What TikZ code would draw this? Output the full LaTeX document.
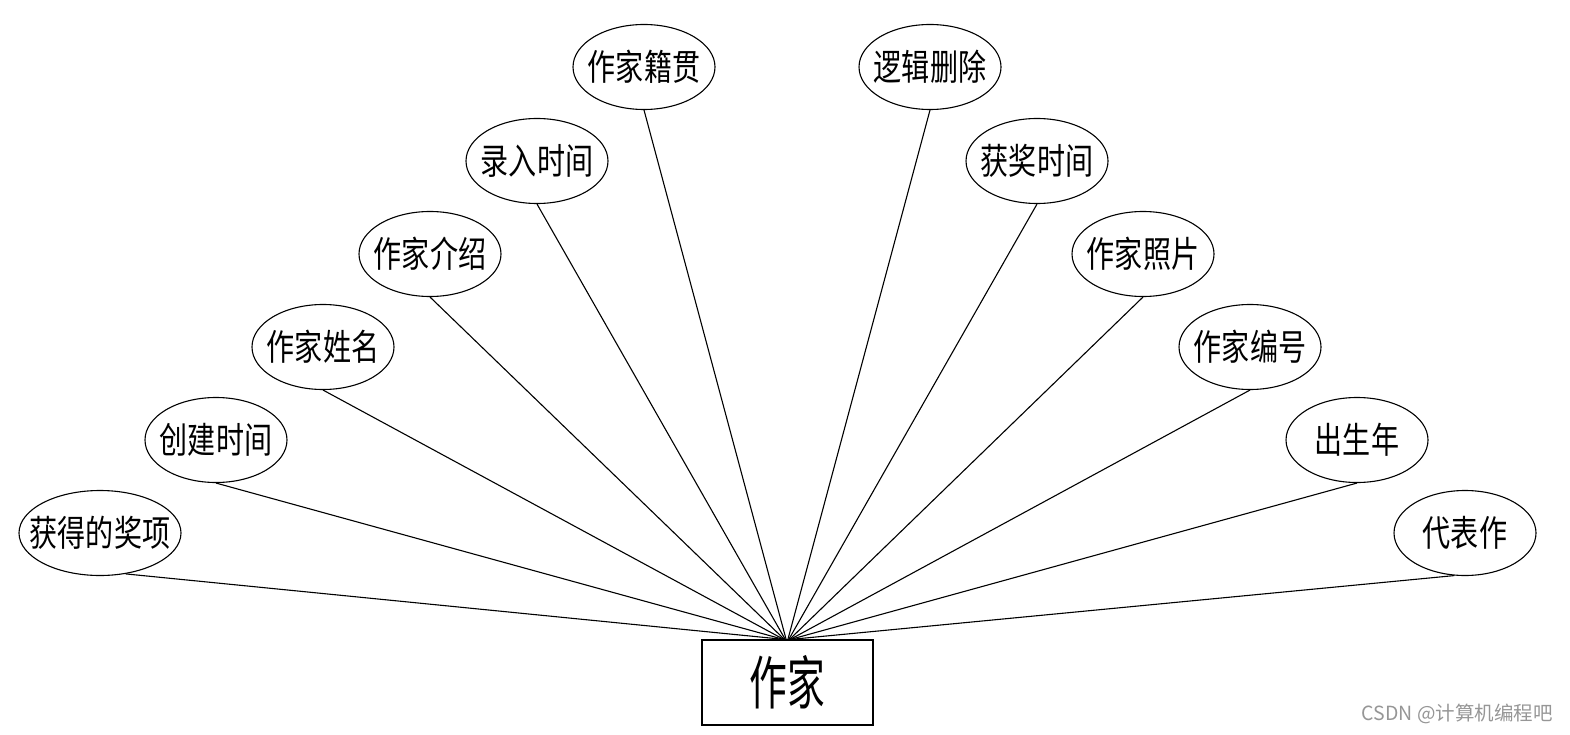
\documentclass[tikz,border=0pt]{standalone}
\usepackage{fontspec}
\newfontfamily\cjkA[FakeStretch=0.78]{Noto Sans CJK SC}
\newfontfamily\cjkB[FakeStretch=0.65]{Noto Sans CJK SC}
\newfontfamily\cjkW{Noto Sans CJK SC}
\usetikzlibrary{shapes.geometric}
\definecolor{wm}{RGB}{150,150,150}
\newcommand{\lbl}[1]{\makebox[0pt][c]{#1}}
\tikzset{
  attr/.style={ellipse, draw, line width=1.1pt, minimum width=142pt, minimum height=85pt,
    inner sep=0pt, font=\cjkA\fontsize{36}{36}\selectfont},
  entity/.style={rectangle, draw, line width=1.3pt, minimum width=171pt, minimum height=85pt,
    inner sep=0pt, font=\cjkB\fontsize{58}{58}\selectfont},
  link/.style={line width=1.1pt}
}
\begin{document}
\begin{tikzpicture}[x=1pt,y=-1pt]
\useasboundingbox (0,0) rectangle (1570,735);
\node[entity] (box) at (787.5,682.5) {作家};
\node[attr, minimum width=162pt] (e1) at (100,533) {\lbl{获得的奖项}};
\node[attr] (e2) at (216,440) {\lbl{创建时间}};
\node[attr] (e3) at (323,347) {\lbl{作家姓名}};
\node[attr] (e4) at (430,254) {\lbl{作家介绍}};
\node[attr] (e5) at (537,161) {\lbl{录入时间}};
\node[attr] (e6) at (644,67) {\lbl{作家籍贯}};
\node[attr] (e7) at (930,67) {\lbl{逻辑删除}};
\node[attr] (e8) at (1037,161) {\lbl{获奖时间}};
\node[attr] (e9) at (1143,254) {\lbl{作家照片}};
\node[attr] (e10) at (1250,347) {\lbl{作家编号}};
\node[attr] (e11) at (1357,440) {\lbl{出生年}};
\node[attr] (e12) at (1465,533) {\lbl{代表作}};
\coordinate (h1) at (780,639);
\coordinate (h2) at (782,639);
\coordinate (h3) at (783,639);
\coordinate (h4) at (784,639);
\coordinate (h5) at (785,639);
\coordinate (h6) at (786,639);
\coordinate (h7) at (788,639);
\coordinate (h8) at (789,639);
\coordinate (h9) at (790,639);
\coordinate (h10) at (791,639);
\coordinate (h11) at (792,639);
\coordinate (h12) at (795,639);
\draw[link] (e1.-58) -- (h1);
\draw[link] (e2.south) -- (h2);
\draw[link] (e3.south) -- (h3);
\draw[link] (e4.south) -- (h4);
\draw[link] (e5.south) -- (h5);
\draw[link] (e6.south) -- (h6);
\draw[link] (e7.south) -- (h7);
\draw[link] (e8.south) -- (h8);
\draw[link] (e9.south) -- (h9);
\draw[link] (e10.south) -- (h10);
\draw[link] (e11.south) -- (h11);
\draw[link] (e12.-104) -- (h12);
\node[anchor=east, text=wm, font=\cjkW\fontsize{19.5}{19.5}\selectfont, inner sep=0pt] (wmk) at (1553,714) {CSDN @计算机编程吧};
\end{tikzpicture}
\end{document}
